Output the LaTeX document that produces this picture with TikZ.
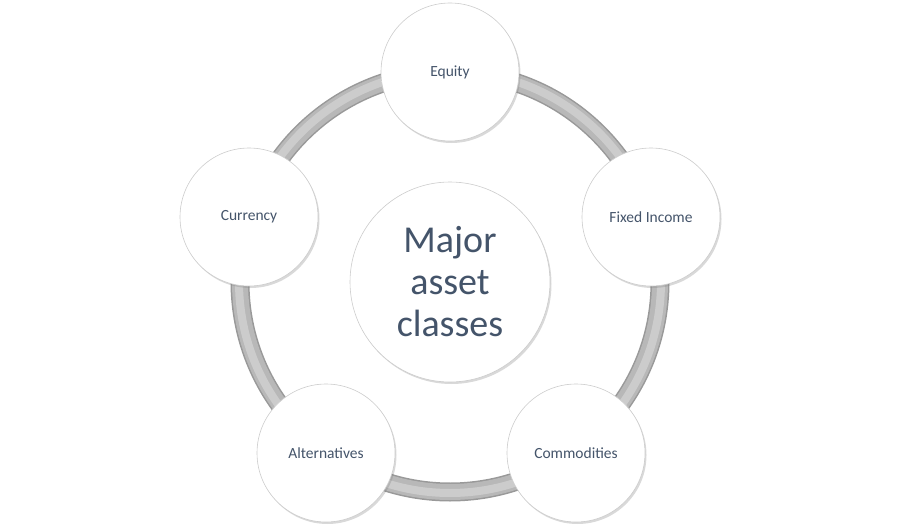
\documentclass[tikz,border=0pt]{standalone}
\usepackage{fontspec}
\setmainfont{Carlito}
\usetikzlibrary{shadows}
\definecolor{txt}{HTML}{44546A}
\pgfdeclareradialshading{bubsh}{\pgfpoint{0bp}{0bp}}{color(0bp)=(white);color(26bp)=(white);color(40bp)=(black!8);color(47bp)=(black!20);color(50bp)=(black!30)}
\begin{document}
\begin{tikzpicture}[x=1pt,y=-1pt,
  bub/.style={circle,minimum size=#1,inner sep=0pt,draw=gray!40,line width=0.6pt,
    shading=bubsh,drop shadow={opacity=0.3,shadow xshift=1.5pt,shadow yshift=-2pt},
    text=txt,font=\fontsize{15.5}{17}\selectfont,align=center}]
\useasboundingbox (0,0) rectangle (900,527);
\coordinate (c) at (450,282);
\draw[black!40,line width=19pt] (c) circle (210);
\draw[black!28,line width=16pt] (c) circle (210);
\draw[black!20,line width=8pt] (c) circle (211);
\node[bub=200pt,font=\fontsize{38}{42}\selectfont] (m) at (c) {Major\\asset\\classes};
\node[bub=138pt] (eq) at (450,72) {Equity};
\node[bub=138pt] (fi) at (651,217) {Fixed Income};
\node[bub=138pt] (co) at (576,453) {Commodities};
\node[bub=138pt] (al) at (326,453) {Alternatives};
\node[bub=138pt] (cu) at (249,217) {Currency};
\end{tikzpicture}
\end{document}
